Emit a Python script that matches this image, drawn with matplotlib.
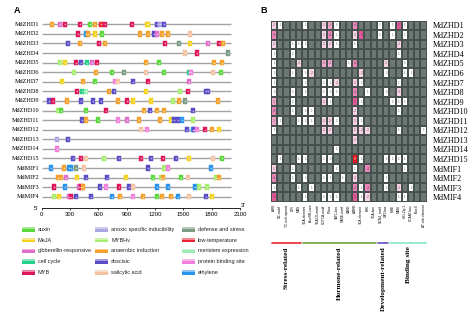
import matplotlib
matplotlib.use('Agg')
import matplotlib.pyplot as plt
import numpy as np
from matplotlib.colors import ListedColormap, BoundaryNorm
from matplotlib.path import Path
from matplotlib.patches import Rectangle

# ---------------- data ----------------
genes = ['MdZHD1', 'MdZHD2', 'MdZHD3', 'MdZHD4', 'MdZHD5', 'MdZHD6', 'MdZHD7',
         'MdZHD8', 'MdZHD9', 'MdZHD10', 'MdZHD11', 'MdZHD12', 'MdZHD13',
         'MdZHD14', 'MdZHD15', 'MdMIF1', 'MdMIF2', 'MdMIF3', 'MdMIF4']

element_names = {
    'aux': 'auxin', 'mej': 'MeJA', 'gib': 'gibberellin-responsive', 'cc': 'cell cycle',
    'myb': 'MYB', 'anx': 'anoxic specific inducibility', 'mhv': 'MYBHv',
    'ana': 'anaerobic induction', 'aba': 'abscisic', 'sa': 'salicylic acid',
    'def': 'defense and stress', 'lt': 'low-temperature', 'mer': 'meristem expression',
    'pbs': 'protein binding site', 'eth': 'ethylene'}
element_colors = {
    'aux': '#5ad83c', 'mej': '#f4d21e', 'gib': '#e070cc', 'cc': '#25d08a',
    'myb': '#de1558', 'anx': '#a9a4e4', 'mhv': '#a6ee6c', 'ana': '#f3a12a',
    'aba': '#5a4cc6', 'sa': '#f3c2a2', 'def': '#7d9c84', 'lt': '#ee2436',
    'mer': '#9deeb6', 'pbs': '#f27fdc', 'eth': '#2a93ec'}
legend_cols = [['aux', 'mej', 'gib', 'cc', 'myb'],
               ['anx', 'mhv', 'ana', 'aba', 'sa'],
               ['def', 'lt', 'mer', 'pbs', 'eth']]

gene_length = 2000
element_pos = [
    [106, 194, 251, 406, 512, 565, 625, 674, 953, 1112, 1130, 1218, 1253, 1296],
    [381, 466, 487, 565, 635, 1041, 1123, 1193, 1218, 1278, 1341, 1571],
    [282, 406, 611, 674, 1306, 1454, 1571, 1765, 1878, 1917],
    [1518, 1649, 1977],
    [194, 247, 364, 417, 484, 537, 590, 1105, 1243, 1829, 1906],
    [342, 575, 745, 875, 1101, 1299, 1564, 1578, 1811, 1899],
    [215, 434, 565, 777, 812, 971, 1130, 1564],
    [371, 424, 469, 713, 766, 1105, 1465, 1553, 1737, 1765],
    [74, 116, 265, 413, 547, 625, 812, 900, 964, 1154, 1394, 1458, 1518, 1871],
    [169, 205, 469, 681, 1084, 1147, 1218, 1296, 1599],
    [431, 466, 593, 812, 907, 1034, 1253, 1373, 1401, 1447, 1483, 1606],
    [1048, 1112, 1536, 1599, 1617, 1649, 1726, 1804, 1878],
    [159, 282],
    [166],
    [335, 417, 469, 660, 822, 1048, 1158, 1288, 1419, 1560, 1818, 1906],
    [95, 237, 289, 311, 364, 448, 1126, 1296, 1341, 1790],
    [177, 205, 254, 371, 469, 695, 893, 1175, 1260, 1288, 1476, 1553, 1843, 1881],
    [134, 247, 392, 417, 441, 618, 681, 819, 928, 971, 1218, 1341, 1620, 1670, 1754],
    [134, 187, 289, 311, 364, 519, 748, 830, 964, 1077, 1218, 1271, 1366, 1447, 1564, 1740, 1807],
]
element_type = [
    ['ana', 'gib', 'myb', 'myb', 'aux', 'ana', 'lt', 'myb', 'myb', 'mej', 'mej', 'aba', 'anx', 'aba'],
    ['myb', 'eth', 'ana', 'mej', 'aux', 'ana', 'ana', 'aba', 'gib', 'ana', 'ana', 'sa'],
    ['aba', 'ana', 'myb', 'ana', 'myb', 'def', 'mej', 'gib', 'myb', 'ana'],
    ['sa', 'myb', 'def'],
    ['mhv', 'mej', 'myb', 'aba', 'cc', 'gib', 'myb', 'ana', 'aux', 'ana', 'ana'],
    ['mhv', 'ana', 'aux', 'def', 'sa', 'aux', 'cc', 'pbs', 'sa', 'aux'],
    ['mej', 'ana', 'aux', 'pbs', 'sa', 'aba', 'myb', 'gib'],
    ['myb', 'cc', 'mer', 'ana', 'aba', 'mej', 'mhv', 'myb', 'aba', 'aba'],
    ['aba', 'myb', 'ana', 'aba', 'aba', 'aba', 'ana', 'myb', 'mej', 'mej', 'mhv', 'ana', 'def', 'ana'],
    ['mhv', 'aux', 'aux', 'myb', 'ana', 'aba', 'ana', 'ana', 'aba'],
    ['aba', 'ana', 'aux', 'pbs', 'gib', 'ana', 'ana', 'mej', 'aba', 'aba', 'eth', 'mhv'],
    ['sa', 'pbs', 'aba', 'eth', 'aba', 'pbs', 'myb', 'ana', 'mej'],
    ['anx', 'aba'],
    ['pbs'],
    ['aba', 'myb', 'sa', 'mhv', 'aba', 'myb', 'aba', 'myb', 'aba', 'mej', 'sa', 'aux'],
    ['eth', 'ana', 'eth', 'eth', 'def', 'sa', 'aba', 'mhv', 'pbs', 'eth'],
    ['ana', 'ana', 'gib', 'mej', 'aba', 'aba', 'mej', 'aux', 'mhv', 'ana', 'aux', 'sa', 'mhv', 'ana'],
    ['myb', 'eth', 'gib', 'myb', 'ana', 'aba', 'pbs', 'myb', 'aba', 'sa', 'eth', 'eth', 'eth', 'mhv', 'mhv'],
    ['mhv', 'mej', 'gib', 'myb', 'aba', 'aba', 'eth', 'ana', 'pbs', 'ana', 'aux', 'ana', 'ana', 'eth', 'sa', 'aba', 'mej'],
]
axis_ticks = [0, 300, 600, 900, 1200, 1500, 1800, 2100]

motifs = ['ARE', 'GC-motif', 'TC-rich repeats', 'LTR', 'MBS',
          'TGA-element', 'AuxRR-core', 'TGACG-motif', 'CGTCA-motif', 'P-box',
          'TATC-box', 'GARE-motif', 'SARE', 'ABRE', 'TCA-element', 'ERE', 'TGA-box',
          'GCN4_motif', 'CAT-box',
          'MRE', 'MBSI', 'HD-Zip 1', 'CCAAT-box', 'Box II', 'AT-rich element']
groups = ['Stress-related', 'Hormone-related', 'Development-related', 'Binding site']
group_sizes = [5, 12, 2, 6]
group_colors = ['#e8262b', '#6ea53a', '#6a4bc4', '#80e8cc']

counts = [
    [2,1,0,0,0,1,0,0,2,3,1,0,0,4,0,0,0,1,0,1,5,1,0,0,0],
    [4,0,0,0,0,0,0,0,2,4,1,0,0,2,5,0,0,1,0,1,0,1,0,0,0],
    [2,0,0,1,1,1,0,0,2,2,1,0,0,1,0,0,0,0,0,0,2,0,0,0,0],
    [1,0,0,1,0,0,0,0,0,0,0,0,0,0,0,0,0,0,0,0,1,0,0,0,0],
    [1,0,0,0,2,0,0,0,3,3,0,0,1,4,0,0,0,0,2,0,0,1,0,0,0],
    [1,0,0,1,0,1,2,0,0,0,0,0,0,0,2,0,0,0,1,0,0,1,1,0,0],
    [1,0,0,0,0,1,0,0,1,1,2,0,0,2,1,0,0,0,0,0,1,0,0,0,0],
    [1,0,0,1,0,1,0,0,1,1,1,0,0,4,0,1,0,0,1,0,2,0,0,0,0],
    [3,0,0,1,0,0,0,0,2,1,0,0,0,5,1,0,0,0,0,1,1,1,0,0,0],
    [4,0,0,1,0,1,1,0,0,0,0,0,0,2,0,0,0,0,0,0,1,0,0,0,0],
    [3,1,0,0,1,1,1,0,2,2,1,0,0,2,1,0,0,0,0,0,0,0,0,0,0],
    [1,0,0,0,0,0,0,0,2,2,0,0,0,2,2,2,0,0,0,0,1,0,0,0,1],
    [0,0,0,0,0,0,0,0,0,0,0,0,0,2,0,0,0,0,0,0,0,0,0,0,0],
    [0,0,0,0,0,0,0,0,0,0,1,0,0,0,0,0,0,0,0,0,0,0,0,0,0],
    [0,1,0,0,1,1,0,0,1,1,0,0,0,8,1,0,0,0,1,1,1,1,0,0,0],
    [2,0,0,1,0,0,0,0,0,0,1,0,0,1,0,4,0,0,0,0,0,1,0,0,0],
    [4,0,0,1,0,1,0,0,1,1,0,1,0,2,0,0,0,0,1,0,0,0,0,0,0],
    [1,0,0,0,1,0,1,0,0,0,0,0,0,4,1,4,0,0,1,0,2,0,1,0,0],
    [5,0,0,0,0,1,0,0,1,1,1,0,0,5,1,2,0,0,0,0,1,1,0,0,0],
]

# ---------------- figure ----------------
W, H = 474, 321
fig = plt.figure(figsize=(W / 100, H / 100), dpi=100)
fig.patch.set_facecolor('white')


def px_axes(l, t, r, b):
    return fig.add_axes([l / W, 1 - b / H, (r - l) / W, (b - t) / H])


SERIF = ['Liberation Serif', 'DejaVu Serif']
SANS = ['Liberation Sans', 'DejaVu Sans']

# ---------- Panel A ----------
axA = px_axes(41.7, 20, 240, 208.3)
n = len(genes)
row_step = 9.58
y0 = 24.3
axA.set_xlim(0, 2100)
axA.set_ylim((208.3 - y0) / row_step, (20 - y0) / row_step)
for side in ['top', 'right', 'left']:
    axA.spines[side].set_visible(False)
axA.spines['bottom'].set_linewidth(0.6)
axA.set_yticks([])
axA.set_xticks(axis_ticks)
axA.set_xticklabels([str(t) for t in axis_ticks], fontsize=4.3, family=SANS)
axA.tick_params(axis='x', length=1.5, width=0.5, pad=1)

rect_marker = Path([(-0.38, -0.5), (0.38, -0.5), (0.38, 0.5), (-0.38, 0.5), (-0.38, -0.5)],
                   [Path.MOVETO, Path.LINETO, Path.LINETO, Path.LINETO, Path.CLOSEPOLY])
for i, g in enumerate(genes):
    axA.hlines(i, 0, gene_length, color='#a3a3a3', lw=1.0, zorder=1)
    axA.text(-25, i, g, ha='right', va='center', fontsize=4.4, family=SERIF)
    cols = [element_colors[t] for t in element_type[i]]
    axA.scatter(element_pos[i], [i] * len(element_pos[i]), marker=rect_marker, s=15,
                c=cols, edgecolors=cols, linewidths=0.3, zorder=3, clip_on=False)
    axA.scatter(element_pos[i], [i] * len(element_pos[i]), marker='o', s=1.6,
                c='white', alpha=0.55, linewidths=0, zorder=4, clip_on=False)
axA.text(-35, axA.get_ylim()[0], "5'", ha='right', va='center', fontsize=4.3, family=SANS)
axA.text(2110, axA.get_ylim()[0] - 0.25, "3'", ha='left', va='center', fontsize=4.3, family=SANS,
         clip_on=False)

# legend
axL = px_axes(0, 222, 240, 280)
axL.set_xlim(0, 240)
axL.set_ylim(280, 222)
axL.axis('off')
col_x = [22, 95, 182]
row_y = [229.5, 240.2, 250.9, 261.6, 272.3]
for cx, keys in zip(col_x, legend_cols):
    for ry, k in zip(row_y, keys):
        axL.add_patch(Rectangle((cx, ry - 2.2), 13, 4.4, facecolor=element_colors[k],
                                edgecolor='none'))
        axL.add_patch(Rectangle((cx, ry - 2.2), 13, 1.6, facecolor='white', alpha=0.45,
                                edgecolor='none'))
        axL.text(cx + 16, ry, element_names[k], ha='left', va='center', fontsize=4.0,
                 family=SANS, color='#222222')

fig.text(14 / W, 1 - 12.7 / H, 'A', fontsize=6.5, fontweight='bold', family=SANS)
fig.text(260.5 / W, 1 - 12.7 / H, 'B', fontsize=6.5, fontweight='bold', family=SANS)

# ---------- Panel B ----------
axB = px_axes(271, 20.5, 426.7, 202)
M = np.array(counts)
cell_colors = ['#6d7875', '#ffffff', '#f7d3e5', '#f0a9cd', '#ea86b9', '#e4589d',
               '#e33c7d', '#e42650', '#e3121c']
cmap = ListedColormap(cell_colors)
norm = BoundaryNorm(np.arange(-0.5, len(cell_colors) + 0.5, 1), cmap.N)
axB.pcolormesh(np.arange(M.shape[1] + 1), np.arange(M.shape[0] + 1), M, cmap=cmap, norm=norm,
               edgecolors='#46504d', linewidth=0.35)
axB.set_xlim(0, M.shape[1])
axB.set_ylim(M.shape[0], 0)
for r in range(M.shape[0]):
    for c in range(M.shape[1]):
        if M[r, c] > 0:
            axB.text(c + 0.5, r + 0.5, str(M[r, c]), ha='center', va='center',
                     fontsize=2.6, color='#444444' if M[r, c] < 6 else '#ffffff', family=SERIF)
for s in axB.spines.values():
    s.set_visible(False)
axB.yaxis.tick_right()
axB.set_yticks(np.arange(n) + 0.5)
axB.set_yticklabels(genes, fontsize=5.8, family=SERIF)
axB.set_xticks(np.arange(len(motifs)) + 0.5)
axB.set_xticklabels(motifs, rotation=90, fontsize=2.3, family=SANS)
axB.tick_params(axis='both', length=0)
axB.tick_params(axis='y', pad=4.5)
axB.tick_params(axis='x', pad=2)

# group bars
axG = px_axes(271, 238, 426.7, 320)
axG.set_xlim(0, M.shape[1])
axG.set_ylim(320, 238)
axG.axis('off')
start = 0
for name, size, col in zip(groups, group_sizes, group_colors):
    axG.plot([start + 0.15, start + size - 0.15], [242.7, 242.7], color=col, lw=1.2,
             solid_capstyle='round')
    axG.text(start + size / 2, 246.5, name, rotation=90, ha='center', va='top',
             fontsize=5.2, fontweight='bold', family=SERIF)
    start += size

fig.savefig('out.png', dpi=100)
